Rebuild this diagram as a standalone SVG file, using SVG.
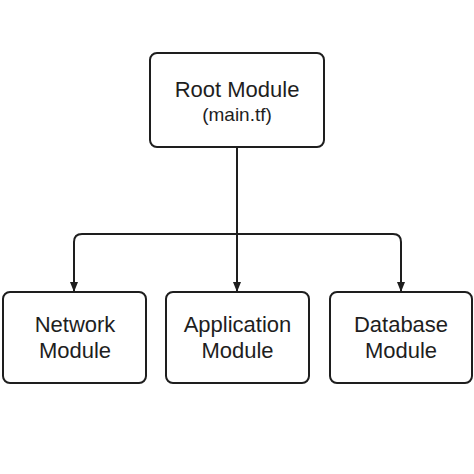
<svg xmlns="http://www.w3.org/2000/svg" width="474" height="474" viewBox="0 0 474 474">
<style>
.box{fill:#fff;stroke:#1e1e1e;stroke-width:2}
.t{font-family:"Liberation Sans",Arial,sans-serif;fill:#1e1e1e;text-anchor:middle;font-size:22px}
.c{fill:none;stroke:#1e1e1e;stroke-width:2}
</style>
<defs>
<marker id="ah" viewBox="0 0 10 10" refX="10" refY="5" markerWidth="10" markerHeight="8" markerUnits="userSpaceOnUse" orient="auto" preserveAspectRatio="none">
<path d="M0,0 L10,5 L0,10 z" fill="#1e1e1e"/>
</marker>
</defs>
<rect width="474" height="474" fill="#fff"/>
<g id="connectors">
<path class="c" d="M237,147 V292" marker-end="url(#ah)"/>
<path class="c" d="M237,234 H82 Q74,234 74,242 V292" marker-end="url(#ah)"/>
<path class="c" d="M237,234 H393 Q401,234 401,242 V292" marker-end="url(#ah)"/>
</g>
<g id="root">
<rect class="box" x="150" y="53" width="174" height="94" rx="7"/>
<text class="t" x="237" y="97">Root Module</text>
<text class="t" x="237" y="121" style="font-size:19px">(main.tf)</text>
</g>
<g id="network">
<rect class="box" x="3" y="292" width="143" height="91" rx="7"/>
<text class="t" x="75" y="332">Network</text>
<text class="t" x="75" y="358">Module</text>
</g>
<g id="application">
<rect class="box" x="166" y="292" width="143" height="91" rx="7"/>
<text class="t" x="237.5" y="332">Application</text>
<text class="t" x="237.5" y="358">Module</text>
</g>
<g id="database">
<rect class="box" x="330" y="292" width="142" height="91" rx="7"/>
<text class="t" x="401" y="332">Database</text>
<text class="t" x="401" y="358">Module</text>
</g>
</svg>
